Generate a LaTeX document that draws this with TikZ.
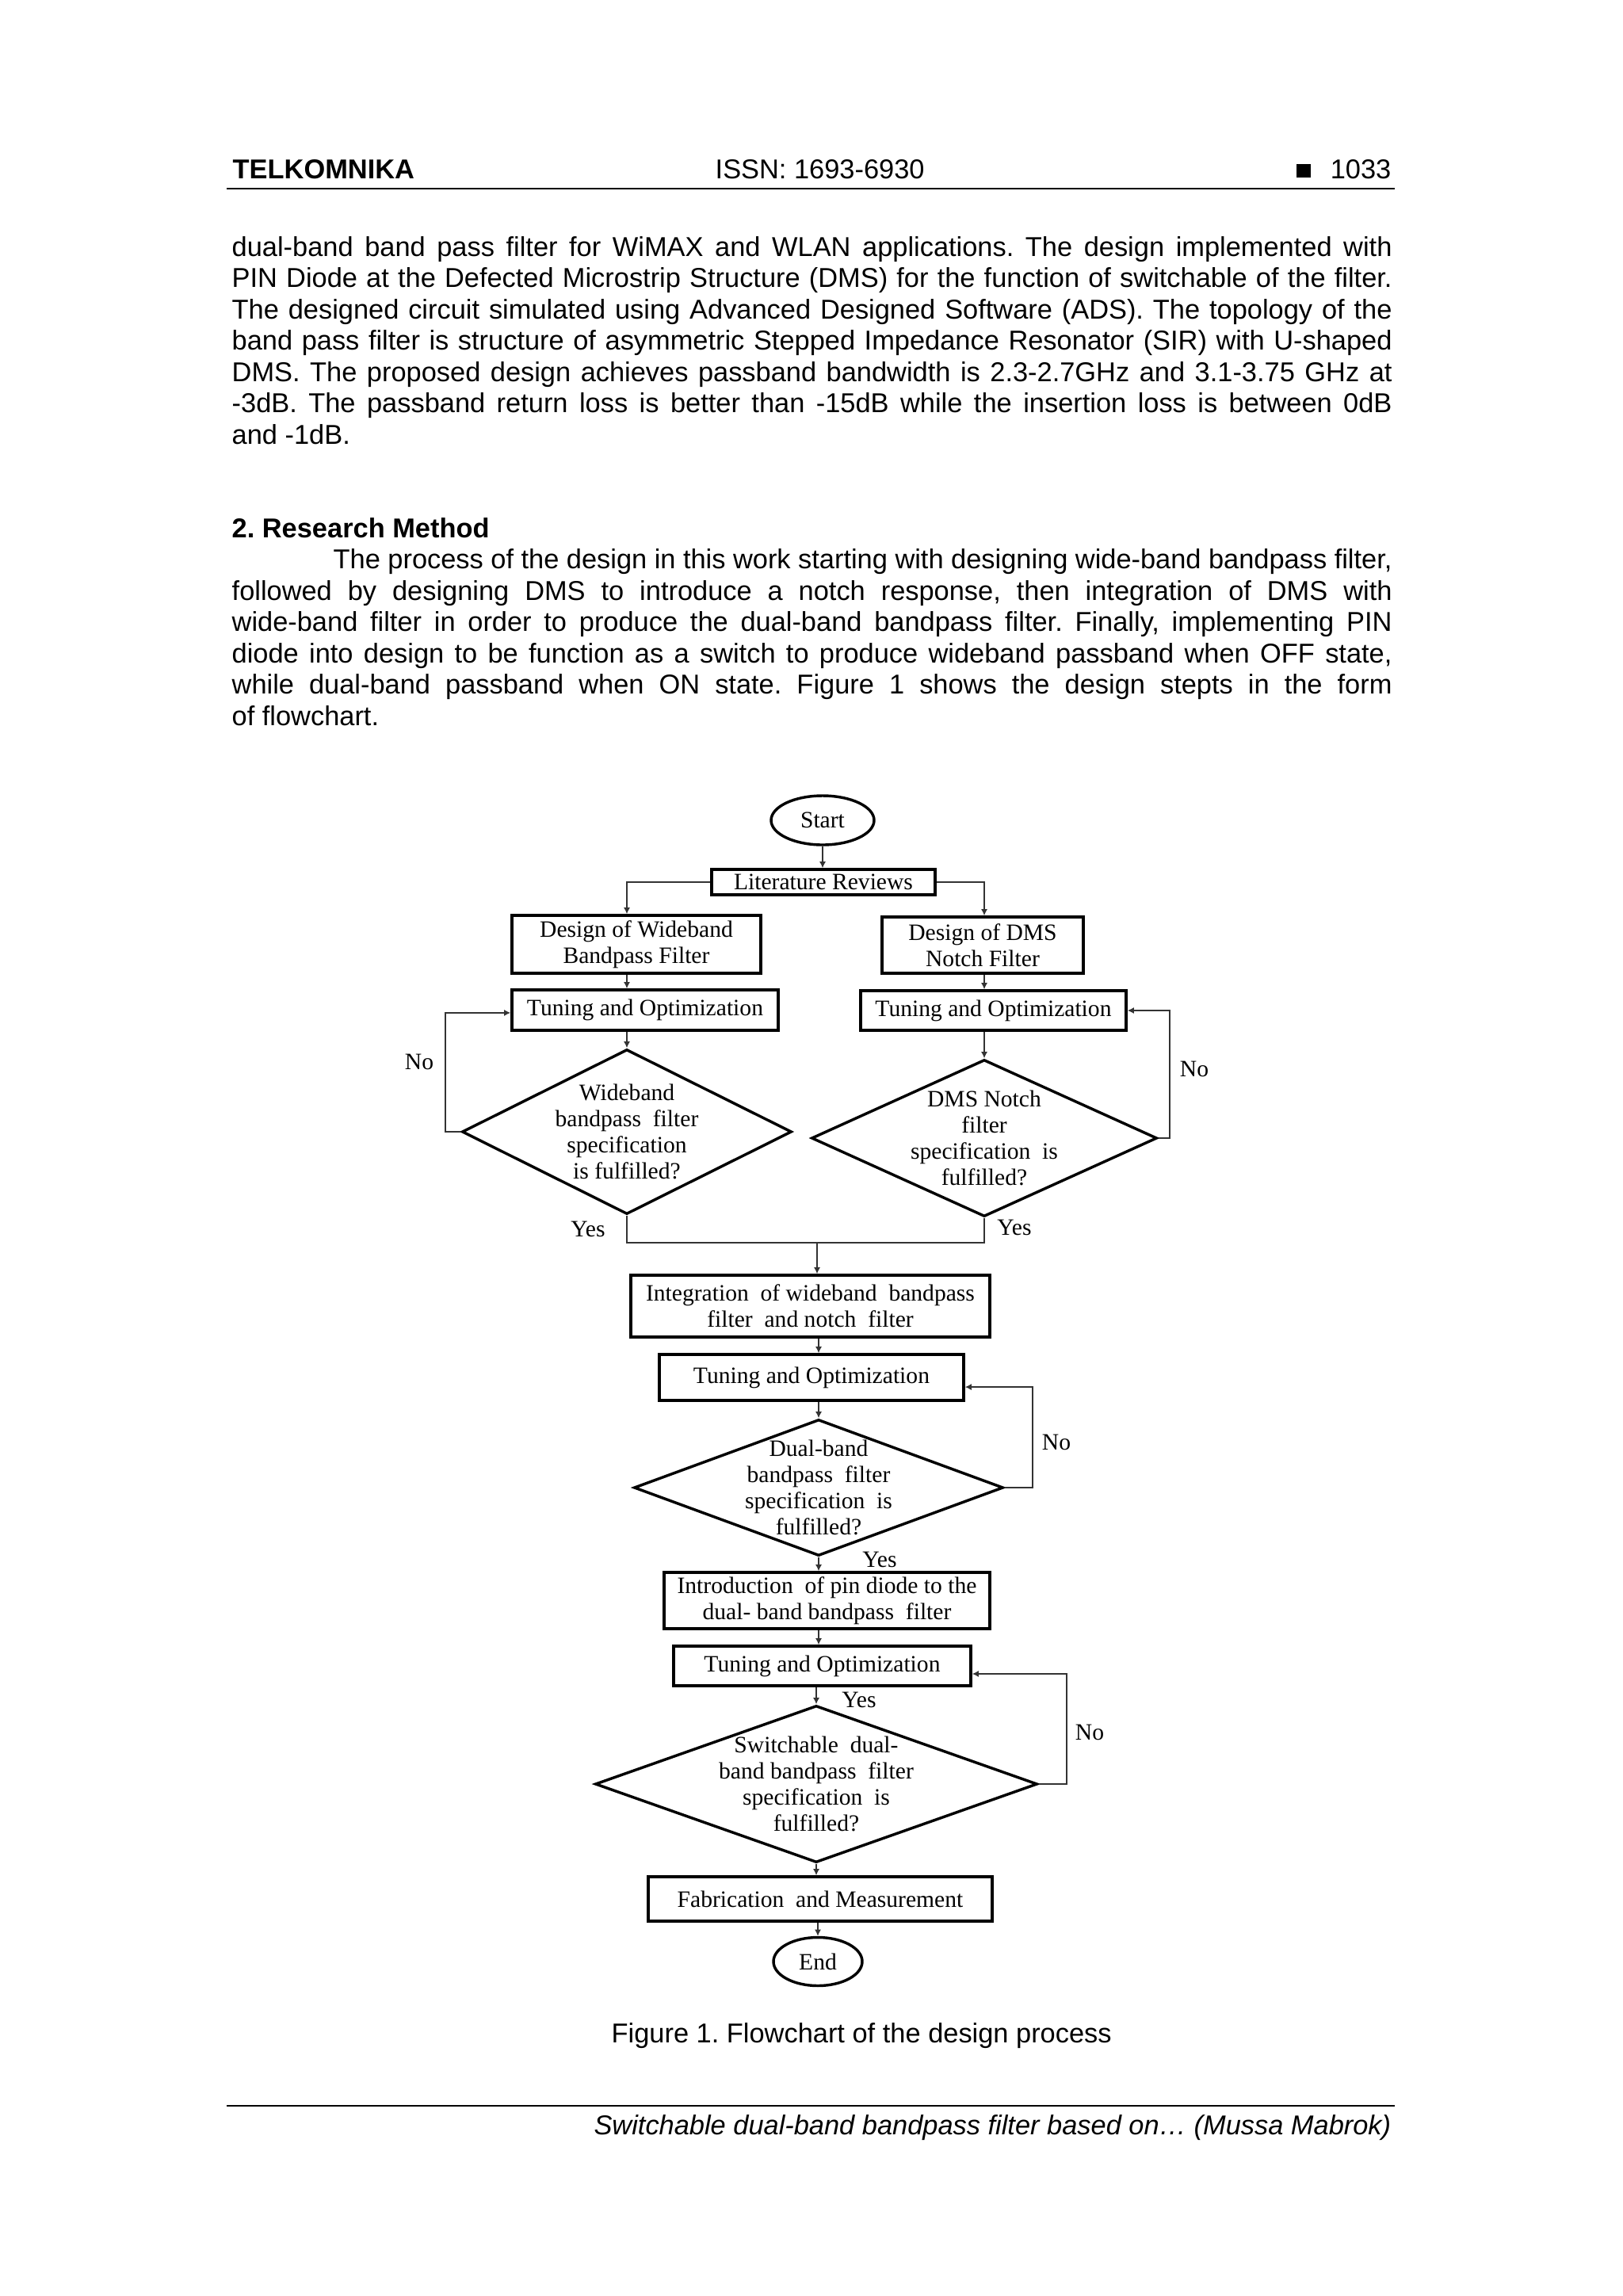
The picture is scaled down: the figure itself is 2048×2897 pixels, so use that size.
\documentclass[tikz,border=0pt]{standalone}
\usepackage{fontspec}
\setmainfont{Liberation Sans}
\newfontfamily\serifff{Liberation Serif}
\usetikzlibrary{shapes.geometric,arrows.meta}
\def\pu{0.29069pt}
\begin{document}
\frenchspacing
\begin{tikzpicture}[x=\pu,y=-\pu,
  txt/.style={anchor=base west,inner sep=0,font=\fontsize{10}{12}\selectfont},
  fbox/.style 2 args={draw,line width=1pt,minimum width={#1*\pu},minimum height={#2*\pu},inner sep=0,align=center,font=\serifff\fontsize{8.6}{9.5}\selectfont},
  ell/.style 2 args={draw,ellipse,line width=1pt,minimum width={#1*\pu},minimum height={#2*\pu},inner sep=0,font=\serifff\fontsize{8.6}{9.5}\selectfont},
  dia/.style 2 args={draw,diamond,line width=1pt,minimum width={#1*\pu},minimum height={#2*\pu},inner sep=0},
  dtext/.style={font=\serifff\fontsize{8.6}{9.6}\selectfont,align=center,inner sep=0},
  lab/.style={font=\serifff\fontsize{8.6}{9.6}\selectfont,inner sep=0},
  conn/.style={draw=black!80,line width=0.6pt},
  arr/.style={conn,-{Latex[length=2.4pt,width=2.4pt]}}
]
\fill[white] (0,0) rectangle (2048,2897);
\useasboundingbox (0,0) rectangle (2048,2897);

% header
\node[txt,font=\fontsize{10}{12}\selectfont\bfseries] (hd1) at (293,225) {TELKOMNIKA};
\node[txt] (hd2) at (902,225) {ISSN: 1693-6930};
\node[txt,anchor=base east] (hd3) at (1756,225) {1033};
\fill (1636,207) rectangle (1654,224);
\draw[line width=0.7pt] (286,238) -- (1760,238);

% paragraph 1
\node[txt] (p1) at (292,323) {\makebox[425.57pt][s]{dual-band band pass filter for WiMAX and WLAN applications. The design implemented with}};
\node[txt] (p2) at (292,362.5) {\makebox[425.57pt][s]{PIN Diode at the Defected Microstrip Structure (DMS) for the function of switchable of the filter.}};
\node[txt] (p3) at (292,402) {\makebox[425.57pt][s]{The designed circuit simulated using Advanced Designed Software (ADS). The topology of the}};
\node[txt] (p4) at (292,441.5) {\makebox[425.57pt][s]{band pass filter is structure of asymmetric Stepped Impedance Resonator (SIR) with U-shaped}};
\node[txt] (p5) at (292,481) {\makebox[425.57pt][s]{DMS. The proposed design achieves passband bandwidth is 2.3-2.7GHz and 3.1-3.75 GHz at}};
\node[txt] (p6) at (292,520.5) {\makebox[425.57pt][s]{-3dB. The passband return loss is better than -15dB while the insertion loss is between 0dB}};
\node[txt] (p7) at (292,560) {and -1dB.};

% section
\node[txt,font=\fontsize{10}{12}\selectfont\bfseries] (sec) at (292,678) {2. Research Method};
\node[txt] (q1) at (420,717.5) {\makebox[388.36pt][s]{The process of the design in this work starting with designing wide-band bandpass filter,}};
\node[txt] (q2) at (292,757) {\makebox[425.57pt][s]{followed by designing DMS to introduce a notch response, then integration of DMS with}};
\node[txt] (q3) at (292,796.5) {\makebox[425.57pt][s]{wide-band filter in order to produce the dual-band bandpass filter. Finally, implementing PIN}};
\node[txt] (q4) at (292,836) {\makebox[425.57pt][s]{diode into design to be function as a switch to produce wideband passband when OFF state,}};
\node[txt] (q5) at (292,875.5) {\makebox[425.57pt][s]{while dual-band passband when ON state. Figure 1 shows the design stepts in the form}};
\node[txt] (q6) at (292,915) {of flowchart.};

% flowchart
\node[ell={130}{62}] (start) at (1038,1035) {Start};
\node[fbox={282}{32}] (lit) at (1039,1113) {Literature Reviews};
\node[fbox={314}{73}] (dwb) at (803,1191.5) {Design of Wideband\\Bandpass Filter};
\node[fbox={254}{71}] (ddms) at (1240,1192.5) {Design of DMS\\Notch Filter};
\node[fbox={336}{51}] (t1) at (814,1274.5) {Tuning and Optimization};
\node[fbox={335}{50}] (t2) at (1253.5,1275) {Tuning and Optimization};
\node[dia={416}{208},label={[dtext]center:{Wideband\\bandpass\ \ filter\\specification\\is fulfilled?}}] (d1) at (791,1428) {};
\node[dia={436}{198},label={[dtext]center:{DMS Notch\\filter\\specification\ \ is\\fulfilled?}}] (d2) at (1242,1436) {};
\node[fbox={453}{78}] (integ) at (1022.5,1648) {Integration\ \ of wideband\ \ bandpass\\filter\ \ and notch\ \ filter};
\node[fbox={384}{58}] (t3) at (1024,1738) {Tuning and Optimization};
\node[dia={466}{172},label={[dtext]center:{Dual-band\\bandpass\ \ filter\\specification\ \ is\\fulfilled?}}] (d3) at (1033,1877) {};
\node[fbox={411}{71}] (intro) at (1043.5,2019.5) {Introduction\ \ of pin diode to the\\dual- band bandpass\ \ filter};
\node[fbox={375}{50}] (t4) at (1037.5,2102) {Tuning and Optimization};
\node[dia={558}{198},label={[dtext]center:{Switchable\ \ dual-\\band bandpass\ \ filter\\specification\ \ is\\fulfilled?}}] (d4) at (1030,2251) {};
\node[fbox={434}{56}] (fab) at (1035,2396) {Fabrication\ \ and Measurement};
\node[ell={112}{61}] (end) at (1032,2475) {End};

% labels
\node[lab] (no1) at (529,1340) {No};
\node[lab] (no2) at (1507,1349) {No};
\node[lab] (yes1) at (742,1551) {Yes};
\node[lab] (yes2) at (1280,1549) {Yes};
\node[lab] (no3) at (1333,1820) {No};
\node[lab] (yes3) at (1110,1968) {Yes};
\node[lab] (yes4) at (1084,2145) {Yes};
\node[lab] (no4) at (1375,2186) {No};

% connectors
\draw[arr] (start.south) -- (start.south |- lit.north);
\draw[arr] (lit.west) -| (d1.north |- dwb.north);
\draw[arr] (lit.east) -| (d2.north |- ddms.north);
\draw[arr] (d1.north |- dwb.south) -- (d1.north |- t1.north);
\draw[arr] (d2.north |- ddms.south) -- (d2.north |- t2.north);
\draw[arr] (d1.north |- t1.south) -- (d1.north);
\draw[arr] (d2.north |- t2.south) -- (d2.north);
\draw[arr] (d1.west) -- ++(-19,0) |- ([yshift=-1pt]t1.west);
\draw[arr] (d2.east) -- ++(14,0) |- (t2.east);
\coordinate (m) at (1031,1568);
\draw[conn] (d1.south) |- (m) -| (d2.south);
\draw[arr] (m) -- (m |- integ.north);
\draw[arr] (d3.north |- integ.south) -- (d3.north |- t3.north);
\draw[arr] (d3.north |- t3.south) -- (d3.north);
\draw[arr] (d3.east) -- ++(35,0) |- ([yshift=-3.5pt]t3.east);
\draw[arr] (d3.south) -- (d3.south |- intro.north);
\draw[arr] (d3.south |- intro.south) -- (d3.south |- t4.north);
\draw[arr] (d4.north |- t4.south) -- (d4.north);
\draw[arr] (d4.east) -- ++(35,0) |- ([yshift=-2.9pt]t4.east);
\draw[arr] (d4.south) -- (d4.south |- fab.north);
\draw[arr] (end.north |- fab.south) -- (end.north);

% caption and footer
\node[txt] (cap) at (771,2577) {Figure 1. Flowchart of the design process};
\draw[line width=0.5pt] (286,2657) -- (1760,2657);
\node[txt,anchor=base east,font=\fontsize{10}{12}\selectfont\itshape] (foot) at (1756,2693) {Switchable dual-band bandpass filter based on… (Mussa Mabrok)};
\end{tikzpicture}
\end{document}
